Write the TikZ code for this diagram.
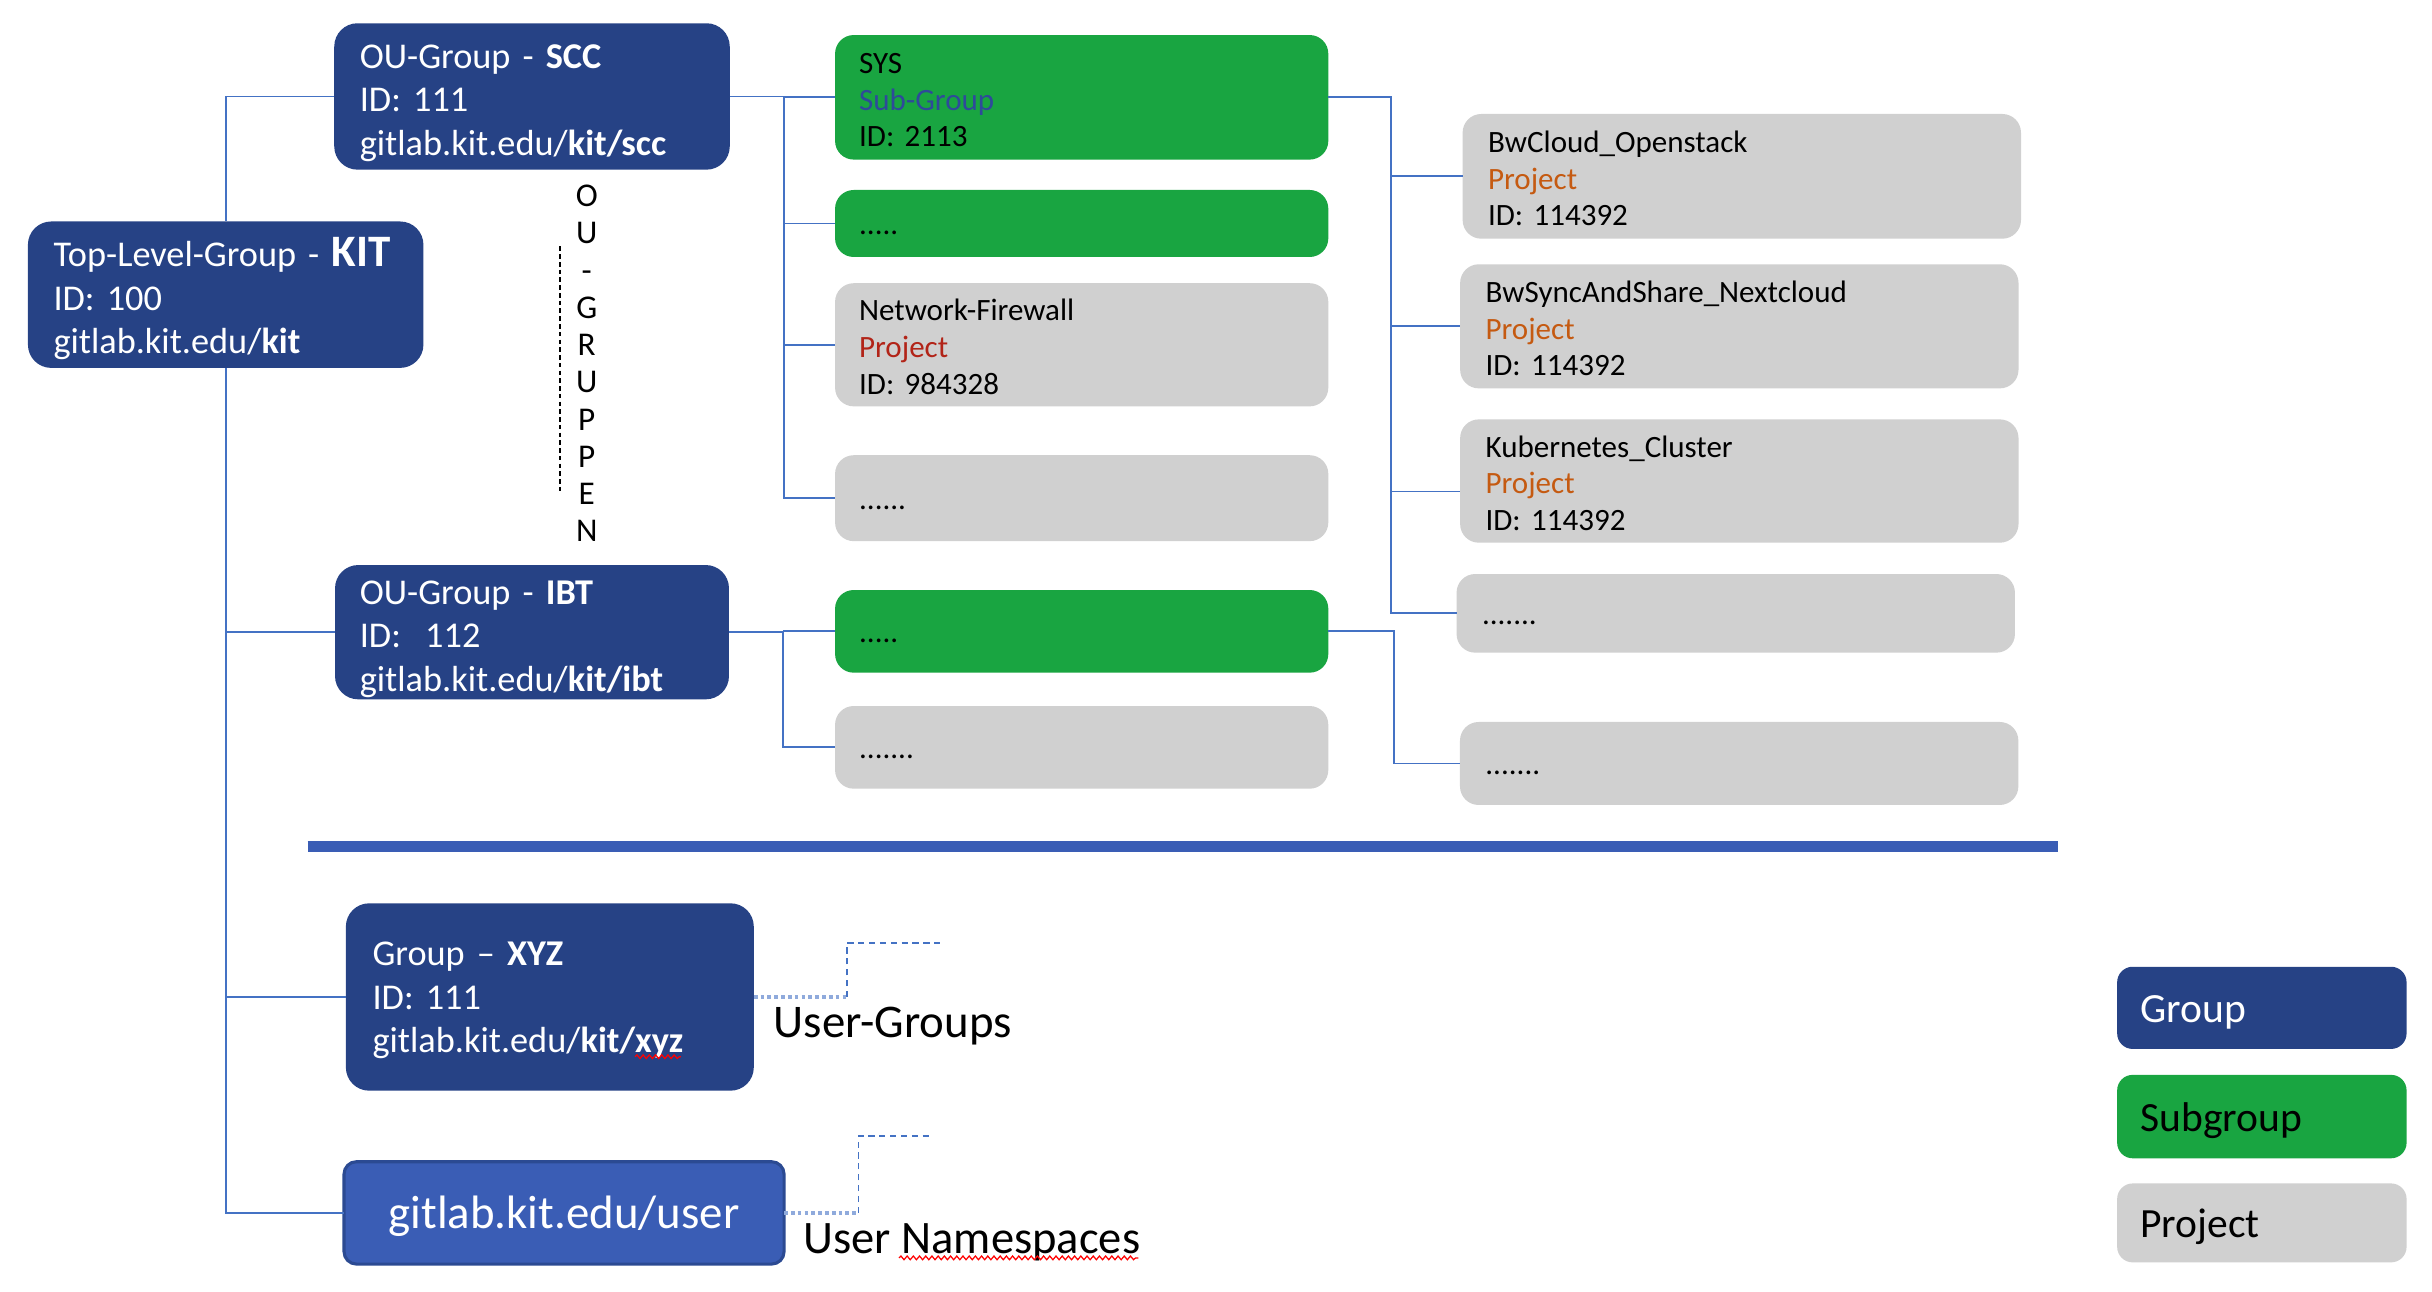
\documentclass[tikz,border=0pt]{standalone}
\usepackage{fontspec}
\setmainfont{Carlito}
\usetikzlibrary{positioning,calc,decorations.pathmorphing}

\definecolor{kitblue}{HTML}{264285}
\definecolor{subgreen}{HTML}{19A541}
\definecolor{projgray}{HTML}{D0D0D0}
\definecolor{userblue}{HTML}{3A5DB5}
\definecolor{userframe}{HTML}{2B4A92}
\definecolor{connblue}{HTML}{4472C4}
\definecolor{dotblue}{HTML}{8FAADC}
\definecolor{subblue}{HTML}{2E4A9A}
\definecolor{nfred}{HTML}{B22418}
\definecolor{projorange}{HTML}{C55A11}

\begin{document}
\begin{tikzpicture}[x=0.5pt,y=-0.5pt,
	cell/.style={anchor=north west,align=left,outer sep=0pt,inner ysep=0pt},
	grpbase/.style={cell,fill=kitblue,text=white,rounded corners=7.5pt,inner xsep=8.25pt,text width=111pt,minimum height=47.2pt,font=\fontsize{11.7}{14}\selectfont},
	grp/.style={grpbase,execute at begin node={\rule{0pt}{12pt}}},
	subgrp/.style={cell,fill=subgreen,rounded corners=6pt,inner xsep=7.75pt,text width=143.5pt,font=\fontsize{10}{11.8}\selectfont},
	proj/.style={cell,fill=projgray,rounded corners=6pt,inner xsep=7.75pt,text width=143.5pt,font=\fontsize{10}{11.8}\selectfont},
	projc/.style={proj,inner xsep=8.2pt,text width=163.6pt},
	three/.style={execute at begin node={\rule{0pt}{8.3pt}}},
	filler/.style={text height=7pt,text depth=0pt},
	legendbox/.style={cell,rounded corners=5pt,inner xsep=7.5pt,text width=78.3pt,text height=9.6pt,text depth=0pt,font=\fontsize{13.4}{15}\selectfont},
	conn/.style={draw=connblue,line width=0.6pt},
	dotconn/.style={draw=dotblue,line width=1.1pt,dash pattern=on 1.2pt off 1pt},
	dashconn/.style={draw=connblue,line width=0.5pt,dash pattern=on 2pt off 1.5pt},
	squiggle/.style={draw=red,line width=0.4pt,decorate,decoration={snake,amplitude=0.6pt,segment length=2pt}}]
	\useasboundingbox (0,0) rectangle (1568,833);

	% groups
	\node[grp] (kit) at (18,142.8) {Top-Level-Group - {\fontsize{14.5}{14}\selectfont\bfseries KIT}\\ID: 100\\gitlab.kit.edu/\textbf{kit}};
	\node[grp] (scc) at (215.5,15) {OU-Group - \textbf{SCC}\\ID: 111\\gitlab.kit.edu/\textbf{kit/scc}};
	\node[grp,inner xsep=8pt,minimum height=43.3pt] (ibt) at (216,364.3) {OU-Group - \textbf{IBT}\\ID:\ \ 112\\gitlab.kit.edu/\textbf{kit/ibt}};
	\node[grpbase,inner xsep=8.6pt,text width=114.3pt,minimum height=60.4pt,execute at begin node={\rule{0pt}{10pt}}] (xyz) at (223,582.4) {Group -- \textbf{XYZ}\\ID: 111\\gitlab.kit.edu/\textbf{kit/xyz}};
	\node[cell,fill=userblue,draw=userframe,line width=1pt,rounded corners=4pt,text=white,inner sep=0pt,minimum width=141.85pt,minimum height=33pt,text height=9.8pt,text depth=0pt,font=\fontsize{15.1}{17}\selectfont] (user) at (221.8,749) {gitlab.kit.edu/user};

	% subgroups and projects
	\node[subgrp,three,minimum height=40.15pt] (sys) at (538.4,22.6) {SYS\\\textcolor{subblue}{Sub-Group}\\ID: 2113};
	\node[subgrp,filler,minimum height=21.6pt] (gdots) at (538.4,122.5) {.....};
	\node[proj,three,minimum height=39.7pt] (nf) at (538.4,182.6) {Network-Firewall\\\textcolor{nfred}{Project}\\ID: 984328};
	\node[proj,filler,minimum height=27.7pt] (pdots) at (538.4,293.5) {......};
	\node[subgrp,filler,minimum height=26.65pt] (igreen) at (538.4,380.4) {.....};
	\node[proj,filler,minimum height=26.65pt] (idots) at (538.4,455.2) {.......};

	\node[projc,three,minimum height=40.2pt] (bwcloud) at (943,73.5) {BwCloud\_Openstack\\\textcolor{projorange}{Project}\\ID: 114392};
	\node[projc,three,minimum height=40pt] (bwsync) at (941.4,170.4) {BwSyncAndShare\_Nextcloud\\\textcolor{projorange}{Project}\\ID: 114392};
	\node[projc,three,minimum height=39.75pt] (kub) at (941.4,270.4) {Kubernetes\_Cluster\\\textcolor{projorange}{Project}\\ID: 114392};
	\node[projc,filler,minimum height=25.35pt] (cdots) at (939.1,370.1) {.......};
	\node[projc,filler,minimum height=26.75pt] (rdots) at (941.3,465.5) {.......};

	% legend
	\node[legendbox,fill=kitblue,text=white,minimum height=26.5pt] (lgroup) at (1365,623.3) {Group};
	\node[legendbox,fill=subgreen,minimum height=26.9pt] (lsub) at (1365,693) {Subgroup};
	\node[legendbox,fill=projgray,minimum height=25.45pt] (lproj) at (1365,763) {Project};

	% OU-Gruppen
	\node[font=\fontsize{10.7}{12}\selectfont,align=center,inner sep=0pt] (ougrp) at (378.3,234.3) {O\\U\\-\\G\\R\\U\\P\\P\\E\\N};
	\draw[line width=0.5pt,dash pattern=on 1.5pt off 1pt] (360.9,158.9) -- (360.9,316.6);

	\draw[userblue,line width=3.5pt] (198.3,545.5) -- (1327,545.5);

	\node[anchor=base west,inner sep=0pt,font=\fontsize{15.1}{17}\selectfont] (ugroups) at (498.4,669.2) {User-Groups};
	\node[anchor=base west,inner sep=0pt,font=\fontsize{15}{17}\selectfont] (uns) at (517.7,807.9) {User Namespaces};

	% tree
	\coordinate (busA) at (505.2,0);
	\coordinate (busB) at (896.7,0);
	\coordinate (busC) at (504.8,0);
	\coordinate (busD) at (898.8,0);
	\coordinate (kubin) at ($(kub.west)+(0,6.7)$);

	\draw[conn] (scc.west) -| (kit.north);
	\draw[conn] (kit.south) |- (user.west);
	\draw[conn] (kit.south |- ibt.west) -- (ibt.west);
	\draw[conn] (kit.south |- xyz.west) -- (xyz.west);

	\draw[conn] (scc.east) -| (busA |- pdots.west) -- (pdots.west);
	\foreach \n in {sys,gdots,nf}
		\draw[conn] (busA |- \n.west) -- (\n.west);

	\draw[conn] (sys.east) -| (busB |- cdots.west) -- (cdots.west);
	\foreach \n in {bwcloud,bwsync,kubin}
		\draw[conn] (busB |- \n) -- (\n);

	\draw[conn] (ibt.east) -| (busC |- idots.west) -- (idots.west);
	\draw[conn] (busC |- igreen.west) -- (igreen.west);
	\draw[conn] (igreen.east) -| (busD |- rdots.west) -- (rdots.west);

	% user connectors
	\coordinate (ugBend) at (546.1,642.8);
	\coordinate (ugEnd) at (606.7,608);
	\coordinate (unsBend) at (553.5,782);
	\coordinate (unsEnd) at (601.5,732.4);
	\draw[dotconn] (xyz.east) -- (ugBend);
	\draw[dashconn] (ugBend) |- (ugEnd);
	\draw[dotconn] (user.east) -- (unsBend);
	\draw[dashconn] (unsBend) |- (unsEnd);

	\draw[squiggle] (409.4,681.3) -- (439,681.3);
	\draw[squiggle] (579.6,811) -- (734,811);
\end{tikzpicture}
\end{document}
